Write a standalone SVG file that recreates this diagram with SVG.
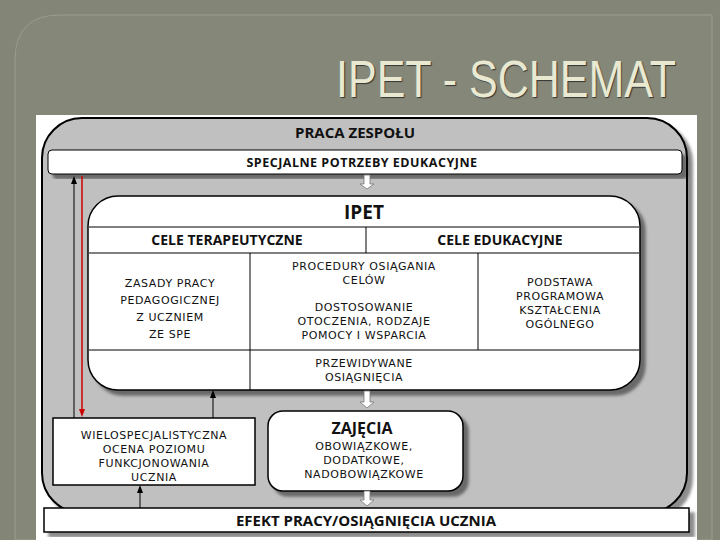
<svg xmlns="http://www.w3.org/2000/svg" width="720" height="540" viewBox="0 0 720 540">
<style>
.b{font-family:"Open Sans","DejaVu Sans",sans-serif;font-weight:bold;fill:#111;text-anchor:middle}
.t{font-family:"DejaVu Sans",sans-serif;font-size:11px;fill:#111;text-anchor:middle;letter-spacing:0.6px}
.w{fill:#fff;stroke:#000;stroke-width:1.5}
.l{stroke:#000;stroke-width:1;fill:none}
.h{fill:#fff;stroke:#777;stroke-width:0.8}
</style>
<defs>
<marker id="ab" markerWidth="8" markerHeight="8" refX="4" refY="4" orient="auto" markerUnits="userSpaceOnUse"><path d="M0,1 L8,4 L0,7z" fill="#000"/></marker>
<marker id="ar" markerWidth="8" markerHeight="8" refX="4" refY="4" orient="auto" markerUnits="userSpaceOnUse"><path d="M0,1 L8,4 L0,7z" fill="#c00"/></marker>
<filter id="sh" x="-5%" y="-5%" width="115%" height="125%"><feDropShadow dx="5" dy="5" stdDeviation="1.5" flood-color="#000" flood-opacity="0.45"/></filter>
</defs>
<rect width="720" height="540" fill="#838676"/>
<path d="M60,15 H712 V540 H15 V60 Q15,15 60,15z" fill="#858878" stroke="#9a9d8c" stroke-width="1"/>
<text transform="translate(676,97) scale(0.86,1.05)" text-anchor="end" font-family="Liberation Sans,sans-serif" font-size="50" fill="#e9e9d2" style="text-shadow:1px 1px 1px #333">IPET - SCHEMAT</text>
<rect x="36" y="115" width="661" height="425" fill="#fff"/>
<g id="zespol"><rect x="42" y="118" width="645" height="395" rx="40" fill="#c0c0c0" stroke="#000" stroke-width="2" filter="url(#sh)"/>
<text class="b" x="355" y="138" font-size="15">PRACA ZESPOŁU</text></g>
<g id="spe"><rect x="48" y="150" width="634" height="24" rx="4" class="w" style="stroke-width:1" filter="url(#sh)"/>
<text class="b" x="362" y="167" font-size="12.5" letter-spacing="0.5">SPECJALNE POTRZEBY EDUKACYJNE</text></g>
<g id="ipet"><rect x="88" y="196" width="552" height="194" rx="30" class="w" filter="url(#sh)"/>
<text class="b" x="364" y="219" font-size="19">IPET</text>
<path class="l" d="M89,227 H639 M366,227 V253 M89,253 H639 M250,253 V390 M478,253 V350 M89,350 H639"/>
<text class="b" x="227" y="245" font-size="14">CELE TERAPEUTYCZNE</text>
<text class="b" x="500" y="245" font-size="14">CELE EDUKACYJNE</text>
<text class="t" x="170" y="287">ZASADY PRACY</text>
<text class="t" x="170" y="304">PEDAGOGICZNEJ</text>
<text class="t" x="170" y="321">Z UCZNIEM</text>
<text class="t" x="170" y="338">ZE SPE</text>
<text class="t" x="364" y="270">PROCEDURY OSIĄGANIA</text>
<text class="t" x="364" y="284">CELÓW</text>
<text class="t" x="364" y="311">DOSTOSOWANIE</text>
<text class="t" x="364" y="325">OTOCZENIA, RODZAJE</text>
<text class="t" x="364" y="339">POMOCY I WSPARCIA</text>
<text class="t" x="560" y="286">PODSTAWA</text>
<text class="t" x="560" y="300">PROGRAMOWA</text>
<text class="t" x="560" y="314">KSZTAŁCENIA</text>
<text class="t" x="560" y="328">OGÓLNEGO</text>
<text class="t" x="364" y="367">PRZEWIDYWANE</text>
<text class="t" x="364" y="381">OSIĄGNIĘCIA</text></g>
<g id="ocena"><rect x="53" y="418" width="202" height="67" fill="#fff" stroke="#000" stroke-width="1.5"/>
<text class="t" x="154" y="439">WIELOSPECJALISTYCZNA</text>
<text class="t" x="154" y="453">OCENA POZIOMU</text>
<text class="t" x="154" y="467">FUNKCJONOWANIA</text>
<text class="t" x="154" y="481">UCZNIA</text></g>
<g id="zajecia"><rect x="268" y="411" width="195" height="80" rx="15" class="w" filter="url(#sh)"/>
<text class="b" x="362" y="434" font-size="16">ZAJĘCIA</text>
<text class="t" x="364" y="450">OBOWIĄZKOWE,</text>
<text class="t" x="364" y="464">DODATKOWE,</text>
<text class="t" x="364" y="478">NADOBOWIĄZKOWE</text></g>
<g id="efekt"><rect x="44" y="508" width="645" height="24" fill="#fff" stroke="#000" stroke-width="1.5" filter="url(#sh)"/>
<text class="b" x="366" y="526" font-size="15">EFEKT PRACY/OSIĄGNIĘCIA UCZNIA</text></g>
<g id="connectors">
<path class="h" d="M364,175 H370 V184 H374 L367,189 L360,184 H364z"/>
<path class="h" d="M364,391 H370 V402 H374 L367,408 L360,402 H364z"/>
<path class="h" d="M364,491 H370 V500 H374 L367,506 L360,500 H364z"/>
<line x1="74" y1="418" x2="74" y2="180" class="l" marker-end="url(#ab)"/>
<line x1="82" y1="176" x2="82" y2="413" stroke="#c00" stroke-width="1.5" marker-end="url(#ar)"/>
<line x1="213" y1="418" x2="213" y2="394" class="l" marker-end="url(#ab)"/>
<line x1="140" y1="508" x2="140" y2="489" class="l" marker-end="url(#ab)"/>
</g>
</svg>
